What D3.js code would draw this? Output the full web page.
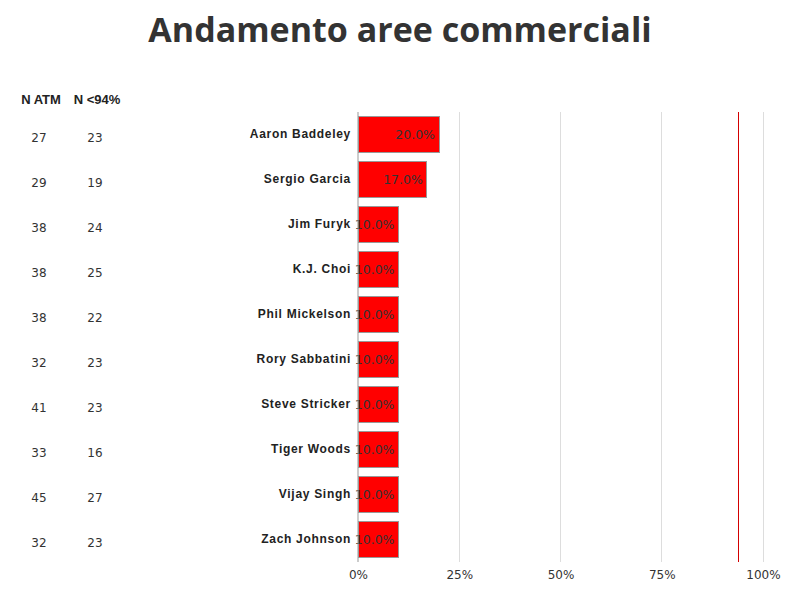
<!DOCTYPE html>
<html><head><meta charset="utf-8">
<script src="https://cdn.jsdelivr.net/npm/d3@7"></script>
<style>body{margin:0;background:#fff}svg{display:block}</style>
</head><body>
<svg id="c" width="800" height="600"></svg>
<script>
const names = ["Aaron Baddeley","Sergio Garcia","Jim Furyk","K.J. Choi","Phil Mickelson","Rory Sabbatini","Steve Stricker","Tiger Woods","Vijay Singh","Zach Johnson"];
const pct = [20,17,10,10,10,10,10,10,10,10];
const nAtm = [27,29,38,38,38,32,41,33,45,32];
const nBelow = [23,19,24,25,22,23,23,16,27,23];
const ticks = [0,25,50,75,100];
const refValue = 94;
const colHeaders = ["N ATM","N <94%"];

const svg = d3.select("#c");
const margin = {left:358, right:37, top:112, bottom:38};
const W = 800, H = 600;
const x = d3.scaleLinear().domain([0,100]).range([margin.left, W - margin.right]);
const y = d3.scaleBand().domain(names).range([margin.top, H - margin.bottom]).paddingInner(0.222).paddingOuter(0.111);

svg.append("text").attr("x",400).attr("y",42).attr("text-anchor","middle")
  .attr("font-family","Open Sans").attr("font-weight","bold").attr("font-size",34).attr("fill","#333")
  .text("Andamento aree commerciali");

// grid
svg.append("g").selectAll("line").data(ticks.slice(1)).join("line")
  .attr("x1",d=>x(d)).attr("x2",d=>x(d)).attr("y1",margin.top).attr("y2",H-margin.bottom)
  .attr("stroke","#ddd").attr("stroke-width",1).attr("shape-rendering","crispEdges");

// x axis labels
const xa = svg.append("g").attr("transform",`translate(0,${H-margin.bottom})`)
  .call(d3.axisBottom(x).tickValues(ticks).tickFormat(d=>d+"%").tickSize(0).tickPadding(8));
xa.select(".domain").remove();
xa.selectAll("text").attr("font-family","DejaVu Sans").attr("font-size",12).attr("fill","#333");

// bars
svg.append("g").selectAll("rect").data(names).join("rect")
  .attr("x",x(0)).attr("y",d=>y(d)).attr("width",(d,i)=>x(pct[i])-x(0)).attr("height",y.bandwidth())
  .attr("fill","#ff0000").attr("stroke","#999").attr("stroke-width",1).attr("shape-rendering","crispEdges");

// value labels
svg.append("g").selectAll("text").data(names).join("text")
  .attr("x",(d,i)=>x(pct[i])-4).attr("y",d=>y(d)+y.bandwidth()/2).attr("dy","0.35em")
  .attr("text-anchor","end").attr("font-family","DejaVu Sans").attr("font-size",12.5).attr("fill","#333")
  .text((d,i)=>pct[i].toFixed(1)+"%");

// y axis
const ya = svg.append("g").attr("transform",`translate(${x(0)},0)`)
  .call(d3.axisLeft(y).tickSize(0).tickPadding(7));
ya.select(".domain").attr("stroke","#999").attr("d",`M0,${margin.top}V${H-margin.bottom}`);
ya.selectAll("text").attr("font-family","Liberation Sans").attr("font-weight","bold").attr("font-size",12)
  .attr("letter-spacing","0.7px").attr("fill","#222");

// ref line
svg.append("line").attr("x1",x(refValue)).attr("x2",x(refValue)).attr("y1",margin.top).attr("y2",H-margin.bottom)
  .attr("stroke","#d40000").attr("stroke-width",1).attr("shape-rendering","crispEdges");

// table columns
const colX = [41,97];
svg.append("g").selectAll("text").data(colHeaders).join("text")
  .attr("x",(d,i)=>colX[i]).attr("y",104).attr("text-anchor","middle")
  .attr("font-family","Liberation Sans").attr("font-weight","bold").attr("font-size",13).attr("fill","#222")
  .text(d=>d);
[nAtm,nBelow].forEach((arr,c)=>{
  svg.append("g").selectAll("text").data(names).join("text")
    .attr("x",colX[c]-2).attr("y",d=>y(d)+y.bandwidth()/2+3).attr("dy","0.35em").attr("text-anchor","middle")
    .attr("font-family","DejaVu Sans").attr("font-size",12).attr("fill","#333")
    .text((d,i)=>arr[i]);
});
</script>
</body></html>
